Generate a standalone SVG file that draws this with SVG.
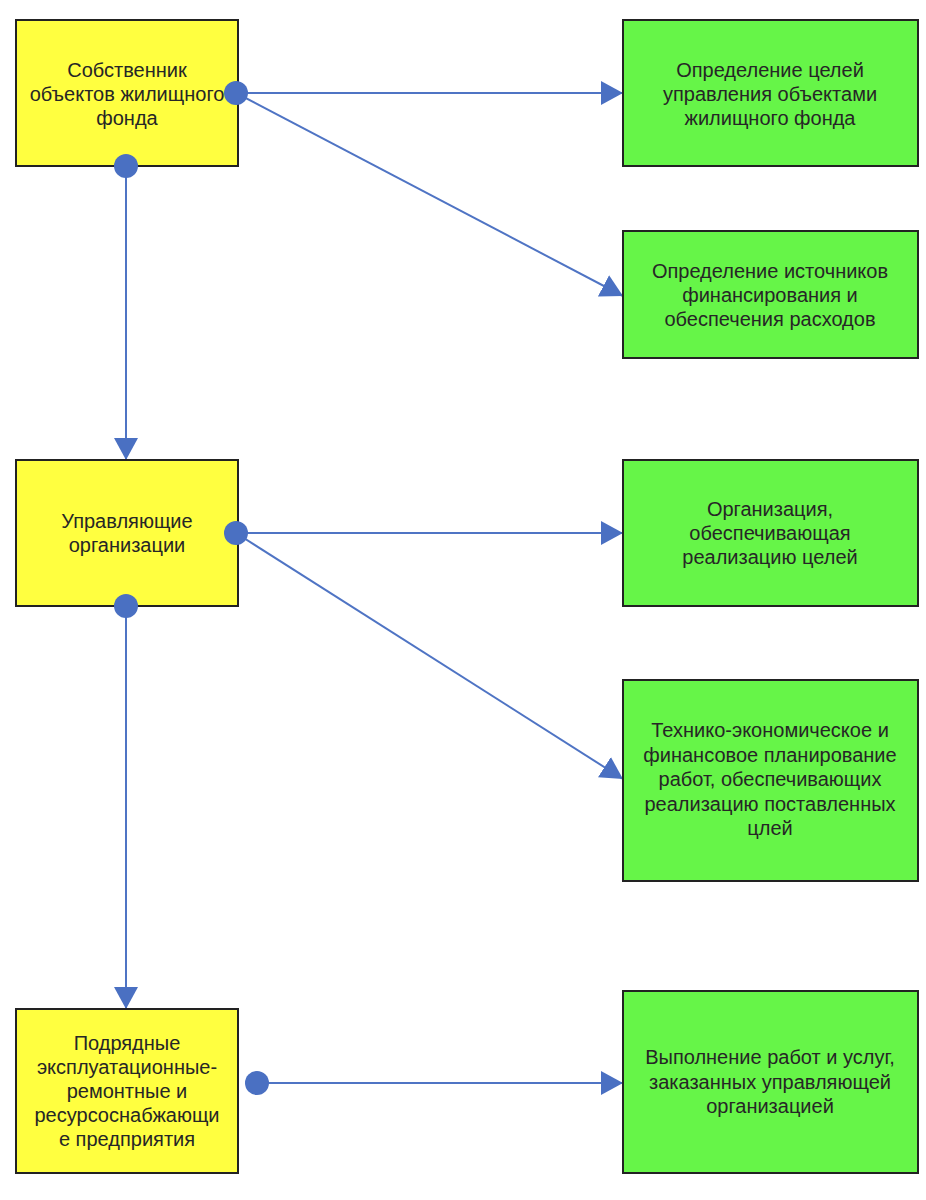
<svg xmlns="http://www.w3.org/2000/svg" width="926" height="1200" viewBox="0 0 926 1200">
<style>
.y{fill:#ffff40;stroke:#222;stroke-width:2}
.g{fill:#66f548;stroke:#222;stroke-width:2}
text{font-family:"Liberation Sans",Arial,sans-serif;font-size:20px;fill:#262626;text-anchor:middle}
.c line{stroke:#4f74c4;stroke-width:2}
.d{fill:#4a70c2}
</style>
<defs>
<marker id="a" markerWidth="24" markerHeight="24" refX="22" refY="12" orient="auto" markerUnits="userSpaceOnUse">
<path d="M0,0 L22,12 L0,24 Z" fill="#4a70c2"/>
</marker>
</defs>
<rect width="926" height="1200" fill="#fff"/>
<g class="c" id="connectors">
<line x1="236" y1="93" x2="623" y2="93" marker-end="url(#a)"/>
<line x1="236" y1="93" x2="623" y2="296" marker-end="url(#a)"/>
<line x1="126" y1="166" x2="126" y2="460" marker-end="url(#a)"/>
<line x1="236" y1="533" x2="623" y2="533" marker-end="url(#a)"/>
<line x1="236" y1="533" x2="623" y2="779" marker-end="url(#a)"/>
<line x1="126" y1="606" x2="126" y2="1009" marker-end="url(#a)"/>
<line x1="257" y1="1083" x2="623" y2="1083" marker-end="url(#a)"/>
</g>
<g id="n1"><rect class="y" x="16" y="20" width="222" height="146"/>
<text x="127" y="77">Собственник</text><text x="127" y="101">объектов жилищного</text><text x="127" y="125">фонда</text></g>
<g id="n2"><rect class="y" x="16" y="460" width="222" height="146"/>
<text x="127" y="528">Управляющие</text><text x="127" y="552">организации</text></g>
<g id="n3"><rect class="y" x="16" y="1009" width="222" height="164"/>
<text x="127" y="1050">Подрядные</text><text x="127" y="1074">эксплуатационные-</text><text x="127" y="1098">ремонтные и</text><text x="127" y="1122">ресурсоснабжающи</text><text x="127" y="1146">е предприятия</text></g>
<g id="g1"><rect class="g" x="623" y="20" width="295" height="146"/>
<text x="770" y="77">Определение целей</text><text x="770" y="101">управления объектами</text><text x="770" y="125">жилищного фонда</text></g>
<g id="g2"><rect class="g" x="623" y="231" width="295" height="127"/>
<text x="770" y="278">Определение источников</text><text x="770" y="302">финансирования и</text><text x="770" y="326">обеспечения расходов</text></g>
<g id="g3"><rect class="g" x="623" y="460" width="295" height="146"/>
<text x="770" y="516">Организация,</text><text x="770" y="540">обеспечивающая</text><text x="770" y="564">реализацию целей</text></g>
<g id="g4"><rect class="g" x="623" y="680" width="295" height="201"/>
<text x="770" y="737">Технико-экономическое и</text><text x="770" y="761.5">финансовое планирование</text><text x="770" y="786">работ, обеспечивающих</text><text x="770" y="810.5">реализацию поставленных</text><text x="770" y="835">цлей</text></g>
<g id="g5"><rect class="g" x="623" y="991" width="295" height="182"/>
<text x="770" y="1064">Выполнение работ и услуг,</text><text x="770" y="1089">заказанных управляющей</text><text x="770" y="1113">организацией</text></g>
<g id="dots">
<circle class="d" cx="236" cy="93" r="12"/>
<circle class="d" cx="126" cy="166" r="12"/>
<circle class="d" cx="236" cy="533" r="12"/>
<circle class="d" cx="126" cy="606" r="12"/>
<circle class="d" cx="257" cy="1083" r="12"/>
</g>
</svg>
